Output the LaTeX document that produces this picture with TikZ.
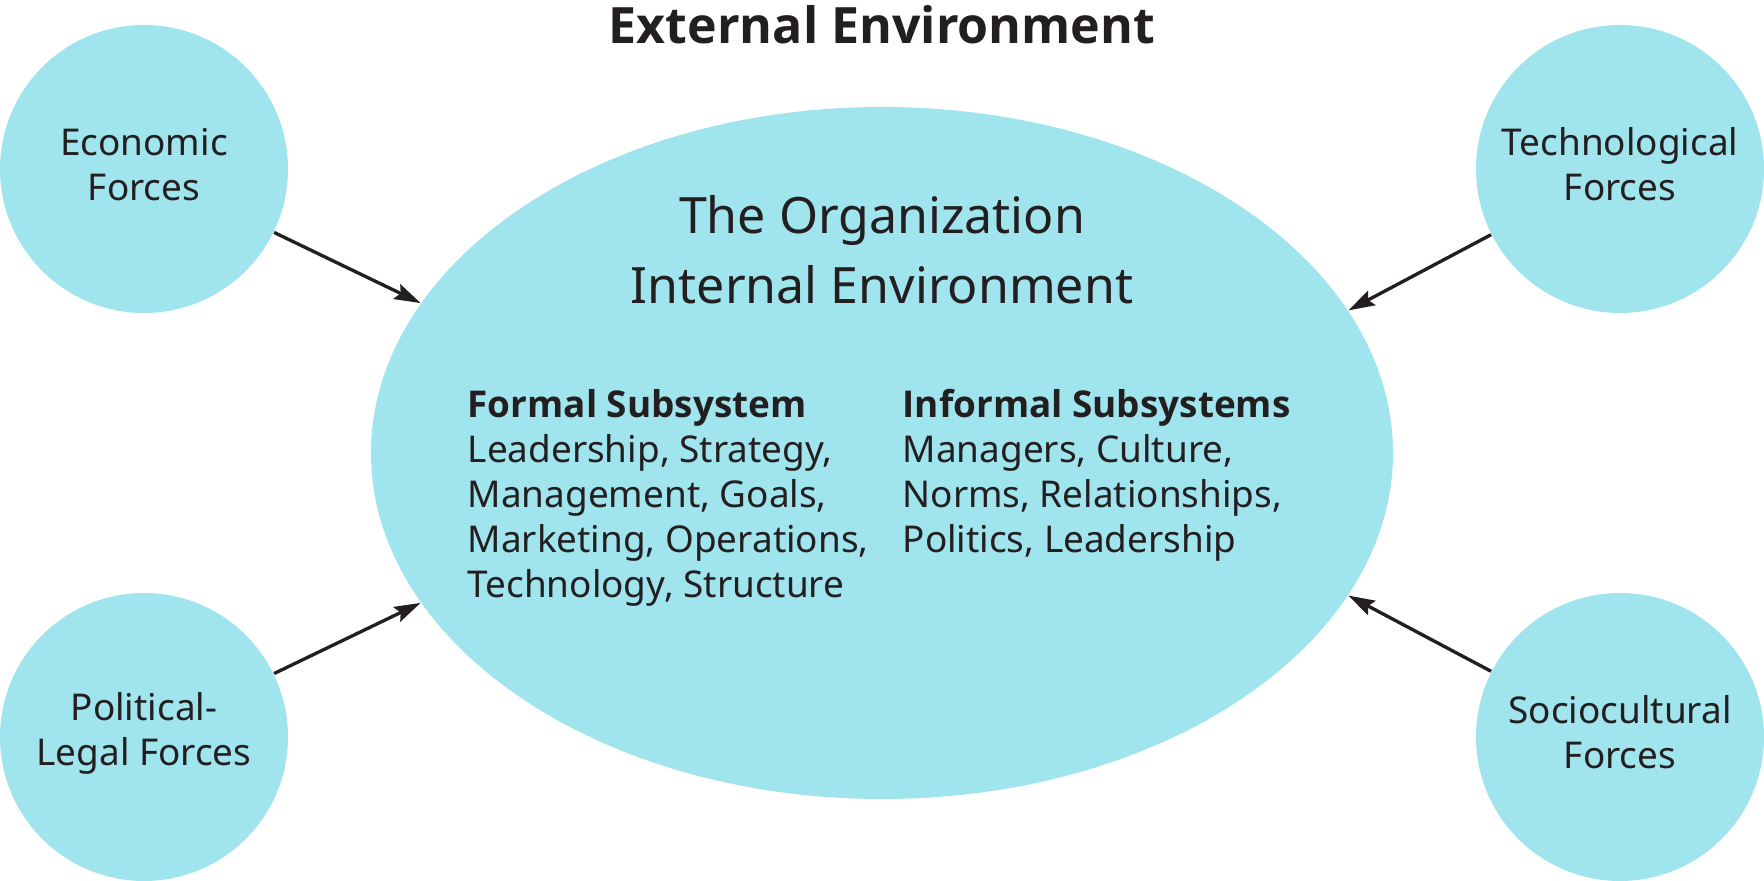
\documentclass[tikz,border=0pt]{standalone}
\usepackage{fontspec}
\setmainfont{Noto Sans}
\newfontfamily\strongfont{Open Sans}
\usetikzlibrary{shapes.geometric,arrows.meta}
\definecolor{envcyan}{HTML}{A0E5EE}
\definecolor{inkdark}{HTML}{231F20}
\newcommand{\strongtext}[1]{{\strongfont\bfseries #1}}

\begin{document}
\begin{tikzpicture}[
	force/.style={circle, fill=envcyan, minimum size=2.88cm, inner sep=0pt},
	forcetext/.style={align=center, inner sep=0pt, text=inkdark,
		font=\fontsize{10.5}{12.76}\selectfont},
	listing/.style={align=left, anchor=north west, inner sep=0pt,
		text=inkdark, font=\fontsize{10.5}{12.76}\selectfont},
	heading/.style={anchor=base, inner sep=0pt, text=inkdark,
		font=\fontsize{14.25}{18}\selectfont},
	push/.style={-{Stealth[length=7.5pt,width=4.6pt,inset=1.2pt]}, line width=0.95pt, draw=inkdark}
]
	\useasboundingbox (0,0) rectangle (17.64,8.81);

	\node[heading] (title) at (8.82,8.37) {\strongtext{External Environment}};

	\node[ellipse, fill=envcyan, minimum width=10.22cm, minimum height=6.92cm, inner sep=0pt] (org) at (8.82,4.28) {};
	\node[heading] (orgname) at (8.82,6.47) {The Organization};
	\node[heading] (orginner) at (8.82,5.77) {Internal Environment};

	\node[listing] (formal) at (4.67,4.92) {\strongtext{Formal Subsystem}\\Leadership, Strategy,\\Management, Goals,\\Marketing, Operations,\\Technology, Structure};
	\node[listing] (informal) at (9.02,4.92) {\strongtext{Informal Subsystems}\\Managers, Culture,\\Norms, Relationships,\\Politics, Leadership};

	% the four outside forces
	\node[force] (eco) at (1.44,7.12) {};
	\node[force] (tech) at (16.20,7.12) {};
	\node[force] (pol) at (1.44,1.44) {};
	\node[force] (soc) at (16.20,1.44) {};
	\node[forcetext] (econame) at ([yshift=0.045cm]eco.center) {Economic\\Forces};
	\node[forcetext] (techname) at ([yshift=0.045cm]tech.center) {Technological\\Forces};
	\node[forcetext] (polname) at ([yshift=0.04cm]pol.center) {Political-\\Legal Forces};
	\node[forcetext] (socname) at ([yshift=0.045cm]soc.center) {Sociocultural\\Forces};

	\draw[push] (eco.-26.8) -- (org.162.5);
	\draw[push] (tech.-153.2) -- (org.17.5);
	\draw[push] (pol.26.8) -- (org.-162.5);
	\draw[push] (soc.153.2) -- (org.-17.5);
\end{tikzpicture}
\end{document}
